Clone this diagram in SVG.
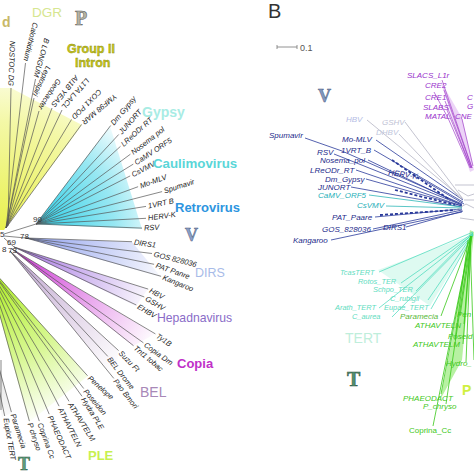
<svg xmlns="http://www.w3.org/2000/svg" width="474" height="474" viewBox="0 0 474 474">
<style>
.l{font-family:"Liberation Sans",Arial,sans-serif;font-style:italic;font-size:7.5px;fill:#222}
.r{font-family:"Liberation Sans",Arial,sans-serif;font-style:italic;font-size:8px;fill:#1c2a8a}
.t{font-family:"Liberation Sans",Arial,sans-serif;font-style:italic;font-size:7.4px;fill:#60dcc0}
.br{stroke:#555;stroke-width:0.7;fill:none}
.rb{stroke:#2a3a9a;stroke-width:0.8;fill:none}
.cl{font-family:"Liberation Sans",Arial,sans-serif;font-weight:bold}
.sf{font-family:"Liberation Serif","Times New Roman",serif;font-weight:bold}
.n{font-family:"Liberation Sans",Arial,sans-serif;font-size:8px;fill:#333}
</style>
<defs>
<radialGradient id="gY" gradientUnits="userSpaceOnUse" cx="4" cy="230" r="180"><stop offset="0" stop-color="#e6ef3a" stop-opacity="0.9"/><stop offset="0.6" stop-color="#e6ef3a" stop-opacity="0.45"/><stop offset="1" stop-color="#e6ef3a" stop-opacity="0"/></radialGradient>
<radialGradient id="gC" gradientUnits="userSpaceOnUse" cx="36" cy="224" r="130"><stop offset="0" stop-color="#1ecbe6" stop-opacity="0.95"/><stop offset="0.6" stop-color="#2ed0e6" stop-opacity="0.5"/><stop offset="1" stop-color="#2ed0e6" stop-opacity="0"/></radialGradient>
<radialGradient id="gD" gradientUnits="userSpaceOnUse" cx="26" cy="238" r="150"><stop offset="0" stop-color="#7f92ea" stop-opacity="0.9"/><stop offset="0.6" stop-color="#8fa0ee" stop-opacity="0.4"/><stop offset="1" stop-color="#8fa0ee" stop-opacity="0"/></radialGradient>
<radialGradient id="gH" gradientUnits="userSpaceOnUse" cx="14" cy="247" r="150"><stop offset="0" stop-color="#9a60e0" stop-opacity="0.9"/><stop offset="0.6" stop-color="#a070e0" stop-opacity="0.4"/><stop offset="1" stop-color="#a070e0" stop-opacity="0"/></radialGradient>
<radialGradient id="gCo" gradientUnits="userSpaceOnUse" cx="12" cy="249" r="170"><stop offset="0" stop-color="#c820d0" stop-opacity="0.95"/><stop offset="0.6" stop-color="#d040d8" stop-opacity="0.4"/><stop offset="1" stop-color="#d040d8" stop-opacity="0"/></radialGradient>
<radialGradient id="gB" gradientUnits="userSpaceOnUse" cx="10" cy="251" r="160"><stop offset="0" stop-color="#a888c0" stop-opacity="0.8"/><stop offset="0.6" stop-color="#b898c8" stop-opacity="0.35"/><stop offset="1" stop-color="#b898c8" stop-opacity="0"/></radialGradient>
<radialGradient id="gP" gradientUnits="userSpaceOnUse" cx="-15" cy="262" r="170"><stop offset="0" stop-color="#a0ea00" stop-opacity="0.95"/><stop offset="0.6" stop-color="#a8ee10" stop-opacity="0.45"/><stop offset="1" stop-color="#a8ee10" stop-opacity="0"/></radialGradient>
<radialGradient id="gT" gradientUnits="userSpaceOnUse" cx="-20" cy="300" r="130"><stop offset="0" stop-color="#a0a0a0" stop-opacity="0.8"/><stop offset="1" stop-color="#b0b0b0" stop-opacity="0"/></radialGradient>
</defs>
<rect width="474" height="474" fill="#fff"/>

<g id="wedges">
<polygon points="4,230 0,230 0,88 11,88 82,125" fill="url(#gY)"/>
<polygon points="36,224 110,126 142,229" fill="url(#gC)"/>
<polygon points="26,238 132,242 161,277" fill="url(#gD)"/>
<polygon points="14,247 148,289 136,306" fill="url(#gH)"/>
<polygon points="12,249 155,334 133,346" fill="url(#gCo)"/>
<polygon points="10,251 119,351 114,379" fill="url(#gB)"/>
<polygon points="-15,262 88,376 29,422" fill="url(#gP)"/>
<polygon points="-20,300 12,413 2,417" fill="url(#gT)"/>
<polygon points="440,80 462,118 474,170 470,172" fill="#d9a8f0" opacity="0.5"/>
<polygon points="378,270 430,306 474,234" fill="#a0f0d8" opacity="0.35"/>
<polygon points="470,230 474,232 462,360 440,400 452,340" fill="#60e030" opacity="0.45"/>
</g>

<g id="connectors">
<g class="br">
<path d="M8,226L11,88M6,228L25.5,63M6,228L35.5,79M6,228L34,98M6,228L39,111M6,228L52,108M6,228L62,110M6,228L71.5,119.5M6,228L81.5,124.5"/>
<path d="M4,234L36,224M36,224L110.7,125.5M36,224L118.7,134.5M36,224L120.5,146.3M36,224L130.4,154.2M36,224L133.3,164.1M36,224L130.2,175.9M36,224L138.1,186.7M36,224L162.1,191.6M36,224L146,206.4M36,224L146,218.3M36,224L142,228.1"/>
<path d="M4,236L26,238M26,238L132,241.7M26,238L152,253.5M26,238L154.1,264.3M26,238L161.1,276.3"/>
<path d="M4,238L14,247M14,247L148.2,289.1M14,247L144.3,297M14,247L136.3,305"/>
<path d="M12,249L155.4,333.9M12,249L143.4,342.8M12,249L133.5,345.7"/>
<path d="M10,251L118.6,350.6M10,251L107.8,356.4M10,251L113.8,378.4"/>
<path d="M-15,262L87.5,375.7M-15,262L83.7,388.5M-15,262L82,396.3M-15,262L69,401.3M-15,262L59.1,406.2M-15,262L49.2,414.2M-15,262L39.3,421.1M-15,262L29.4,421.1"/>
<path d="M-20,300L11.4,412.1M-20,300L4.7,416M1,360L1,410"/>
</g>
<g stroke="#a040c8" stroke-width="0.7" fill="none">
<path d="M442,80L472,168M444,90L472,168M445,101L471,168M447,110L471,168M448,118L470,168M462,119L473,166M434,92L448,118"/>
</g>
<g class="rb">
<path d="M305,138L342,151L462,204M376,140L463,200M374,150L463,202M334,154L462,205M368,160L462,205M356,170L462,206M366,179L462,206M351,187L462,207M418,177L464,204M375,217L462,209M373,229L462,210M406,227L463,211M331,240L462,212"/>
</g>
<g stroke="#2a3a9a" stroke-width="1.8" stroke-dasharray="3 2" fill="none">
<path d="M392,160L450,200M395,190L455,205M380,215L455,210"/>
</g>
<g stroke="#30b8b8" stroke-width="0.8" fill="none">
<path d="M369,195L462,207M386,206L462,208"/>
</g>
<g stroke="#aab" stroke-width="0.7" fill="none">
<path d="M367,120L462,198M405,122L463,199M399,134L462,200M455,185L474,185M458,190L468,196L474,194M456,210L466,204L474,208M460,218L474,220M464,200L474,200"/>
</g>
<g stroke="#40d8b8" stroke-width="0.7" fill="none">
<path d="M379,272L473,232M401,283L473,233M416,291L473,233M428,300L473,234M379,308L473,234M431,309L473,235M392,317L473,235"/>
</g>
<g stroke="#38c818" stroke-width="0.8" fill="none">
<path d="M471,236L441,316M471,236L464,324M471,236L463,344M471,236L466,362M472,236L460,316M471,236L441,394M471,236L446,404M471,236L433,426M470,238L474,360M468,240L455,340"/>
</g>
</g>

<g id="panelA-labels">
<g id="yellow-clade">
<text class="l" text-anchor="end" dy="0.35em" transform="translate(11,86) rotate(92)">NOSTOC DG</text>
<text class="l" text-anchor="end" dy="0.35em" transform="translate(26,61) rotate(104)">Calothidium</text>
<text class="l" text-anchor="end" dy="0.35em" transform="translate(36,77) rotate(106)">B LONGUM</text>
<text class="l" text-anchor="end" dy="0.35em" transform="translate(35,96) rotate(115)">Leptospiri</text>
<text class="l" text-anchor="end" dy="0.35em" transform="translate(40,109) rotate(123)">Geobacter</text>
<text class="l" text-anchor="end" dy="0.35em" transform="translate(53,106) rotate(129)">AI1B YEAS</text>
<text class="l" text-anchor="end" dy="0.35em" transform="translate(63,108) rotate(131)">L1TA LACL</text>
<text class="l" text-anchor="end" dy="0.35em" transform="translate(73,118) rotate(135)">COX1 POD</text>
<text class="l" text-anchor="end" dy="0.35em" transform="translate(83,123) rotate(140)">YMF98 MAR</text>
</g>
<g id="retro-clade">
<text class="l" dy="0.35em" transform="translate(112,124) rotate(-50)">Dm Gypsy</text>
<text class="l" dy="0.35em" transform="translate(120,133) rotate(-48)">JUNORT</text>
<text class="l" dy="0.35em" transform="translate(122,145) rotate(-42)">LReODr RT</text>
<text class="l" dy="0.35em" transform="translate(132,153) rotate(-38)">Nosema pol</text>
<text class="l" dy="0.35em" transform="translate(135,163) rotate(-33)">CaMV ORF5</text>
<text class="l" dy="0.35em" transform="translate(132,175) rotate(-28)">CsVMV</text>
<text class="l" dy="0.35em" transform="translate(140,186) rotate(-20)">Mo-MLV</text>
<text class="l" dy="0.35em" transform="translate(164,191) rotate(-18)">Spumavir</text>
<text class="l" dy="0.35em" transform="translate(148,206) rotate(-12)">1VRT B</text>
<text class="l" dy="0.35em" transform="translate(148,218) rotate(-8)">HERV-K</text>
<text class="l" dy="0.35em" transform="translate(144,228) rotate(-4)">RSV</text>
</g>
<g id="dirs-clade">
<text class="l" dy="0.35em" transform="translate(134,242) rotate(8)">DIRS1</text>
<text class="l" dy="0.35em" transform="translate(154,254) rotate(14)">GOS 828036</text>
<text class="l" dy="0.35em" transform="translate(156,265) rotate(19)">PAT Panre</text>
<text class="l" dy="0.35em" transform="translate(163,277) rotate(22)">Kangaroo</text>
</g>
<g id="hepadna-clade">
<text class="l" dy="0.35em" transform="translate(150,290) rotate(28)">HBV</text>
<text class="l" dy="0.35em" transform="translate(146,298) rotate(30)">GSHV</text>
<text class="l" dy="0.35em" transform="translate(138,306) rotate(30)">EHBV</text>
</g>
<g id="copia-clade">
<text class="l" dy="0.35em" transform="translate(157,335) rotate(35)">Ty1B</text>
<text class="l" dy="0.35em" transform="translate(145,344) rotate(36)">Copia Dm</text>
<text class="l" dy="0.35em" transform="translate(135,347) rotate(40)">Tnt1 tobac</text>
</g>
<g id="bel-clade">
<text class="l" dy="0.35em" transform="translate(120,352) rotate(45)">Suzu Ft</text>
<text class="l" dy="0.35em" transform="translate(109,358) rotate(52)">BEL Drome</text>
<text class="l" dy="0.35em" transform="translate(115,380) rotate(52)">Pao Bmori</text>
</g>
<g id="ple-clade">
<text class="l" dy="0.35em" transform="translate(89,377) rotate(42)">Penelope</text>
<text class="l" dy="0.35em" transform="translate(85,390) rotate(50)">Poseidon</text>
<text class="l" dy="0.35em" transform="translate(83,398) rotate(58)">Hydra PLE</text>
<text class="l" dy="0.35em" transform="translate(70,403) rotate(58)">ATHAVTELM</text>
<text class="l" dy="0.35em" transform="translate(60,408) rotate(63)">ATHAVTELN</text>
<text class="l" dy="0.35em" transform="translate(50,416) rotate(66)">PHAEODACT</text>
<text class="l" dy="0.35em" transform="translate(40,423) rotate(70)">Coprina Cc</text>
<text class="l" dy="0.35em" transform="translate(30,423) rotate(72)">P chryso</text>
</g>
<g id="tert-clade">
<text class="l" dy="0.35em" transform="translate(13,414) rotate(72)">Paramecia</text>
<text class="l" dy="0.35em" transform="translate(6,418) rotate(80)">Euplot TERT</text>
</g>
<g id="bootstrap">
<text class="n" x="33" y="222">90</text>
<text class="n" x="20" y="239">78</text>
<text class="n" x="0" y="237">5</text>
<text class="n" x="7" y="245">69</text>
<text class="n" x="2" y="252">8</text>
<text class="n" x="8" y="253">73</text>
</g>
<g id="clade-names-A">
<text class="cl" x="2" y="27" font-size="14" font-weight="normal" fill="#c8b868">d</text>
<text x="32" y="17" font-family="Liberation Sans,Arial,sans-serif" font-size="13.5" fill="#d6e690">DGR</text>
<text class="sf" x="75" y="25" font-size="20" fill="#b4b4a4" stroke="#555" stroke-width="0.5">P</text>
<text class="cl" x="67" y="53" font-size="12.5" fill="#c8c818" stroke="#8a8a10" stroke-width="0.4">Group II</text>
<text class="cl" x="75" y="67" font-size="12.5" fill="#c8c818" stroke="#8a8a10" stroke-width="0.4">Intron</text>
<text class="cl" x="142" y="117" font-size="14" fill="#a8ece4">Gypsy</text>
<text class="cl" x="153" y="168" font-size="13.3" fill="#5ad6d8">Caulimovirus</text>
<text class="cl" x="175" y="212" font-size="13" fill="#2d95e0">Retrovirus</text>
<text class="sf" x="185" y="241" font-size="18" fill="#8aa0c8" stroke="#506080" stroke-width="0.5">V</text>
<text x="195" y="277" font-family="Liberation Sans,Arial,sans-serif" font-size="12.5" fill="#a8bbe8">DIRS</text>
<text x="157" y="322" font-family="Liberation Sans,Arial,sans-serif" font-size="12.2" fill="#8a6cc8">Hepadnavirus</text>
<text class="cl" x="177" y="368" font-size="13" fill="#c030c8">Copia</text>
<text x="140" y="397" font-family="Liberation Sans,Arial,sans-serif" font-size="14" fill="#a888b8">BEL</text>
<text class="cl" x="88" y="460" font-size="13" fill="#c8f050">PLE</text>
<text class="sf" x="18" y="470" font-size="18" fill="#60a080" stroke="#306040" stroke-width="0.5">T</text>
</g>
</g>

<g id="panelB-labels">
<text x="268" y="18" font-family="Liberation Sans,Arial,sans-serif" font-size="20" fill="#333">B</text>
<g id="scale" stroke="#777" stroke-width="0.8"><path d="M277,47H297M277,45V49M297,45V49"/></g>
<text x="300" y="51" font-family="Liberation Sans,Arial,sans-serif" font-size="9" fill="#555">0.1</text>
<text class="sf" x="318" y="102" font-size="18" fill="#7f98c0" stroke="#506080" stroke-width="0.5">V</text>
<g id="purple-leaves">
<text class="r" x="407" y="78" style="fill:#9933cc">SLACS_L1r</text>
<text class="r" x="425" y="88" style="fill:#9933cc">CRE2</text>
<text class="r" x="425" y="100" style="fill:#9933cc">CRE1</text>
<text class="r" x="423" y="110" style="fill:#9933cc">SLABS</text>
<text class="r" x="425" y="119" style="fill:#9933cc">MATAL</text>
<text class="r" x="467" y="100" style="fill:#9933cc">C</text>
<text class="r" x="467" y="109" style="fill:#9933cc">G</text>
<text class="r" x="455" y="119" style="fill:#9933cc">CNE</text>
</g>
<g id="retro-leaves">
<text class="r" x="346" y="122" style="fill:#b4bce4">HBV</text>
<text class="r" x="382" y="125" style="fill:#c0c2d4">GSHV</text>
<text class="r" x="376" y="135" style="fill:#c0c6dc">DHBV</text>
<text class="r" x="269" y="138">Spumavir</text>
<text class="r" x="342" y="142">Mo-MLV</text>
<text class="r" x="341" y="153">1VRT_B</text>
<text class="r" x="317" y="155">RSV</text>
<text class="r" x="320" y="163">Nosema_pol</text>
<text class="r" x="310" y="173">LReODr_RT</text>
<text class="r" x="325" y="182">Dm_Gypsy</text>
<text class="r" x="318" y="190">JUNORT</text>
<text class="r" x="318" y="198" style="fill:#28b0b8">CaMV_ORF5</text>
<text class="r" x="357" y="208" style="fill:#28b0b8">CsVMV</text>
<text class="r" transform="translate(388,175) rotate(8)">HERV-K</text>
<text class="r" x="332" y="220">PAT_Paare</text>
<text class="r" x="322" y="232">GOS_828036</text>
<text class="r" x="383" y="230">DIRS1</text>
<text class="r" x="293" y="243">Kangaroo</text>
</g>
<g id="tert-leaves">
<text class="t" x="340" y="275">TcasTERT</text>
<text class="t" x="358" y="284">Rotos_TER</text>
<text class="t" x="373" y="292">Schpo_TER</text>
<text class="t" x="390" y="301">C_rubigii</text>
<text class="t" x="335" y="310">Arath_TERT</text>
<text class="t" x="384" y="310">Eupae_TERT</text>
<text class="t" x="352" y="319">C_aurea</text>
<text x="345" y="343" font-family="Liberation Sans,Arial,sans-serif" font-size="14" fill="#bfeedb">TERT</text>
<text class="sf" x="347" y="386" font-size="20" fill="#509070" stroke="#305040" stroke-width="0.5">T</text>
</g>
<g id="ple-leaves">
<text class="r" x="400" y="319" style="fill:#58b838">Paramecia</text>
<text class="r" x="457" y="317" style="fill:#40c820">Pen</text>
<text class="r" x="415" y="328" style="fill:#40c820">ATHAVTELN</text>
<text class="r" x="448" y="339" style="fill:#40c820">Poseid</text>
<text class="r" x="413" y="347" style="fill:#40c820">ATHAVTELM</text>
<text class="r" x="446" y="366" style="fill:#40c820">Hydro_</text>
<text class="r" x="403" y="401" style="fill:#40c820">PHAEODACT</text>
<text class="r" x="423" y="409" style="fill:#40c820">P_chryso</text>
<text class="r" x="409" y="433" style="fill:#40c820;font-style:normal">Coprina_Cc</text>
<text class="cl" x="462" y="395" font-size="14" fill="#d0f040">P</text>
</g>
</g>
</svg>
